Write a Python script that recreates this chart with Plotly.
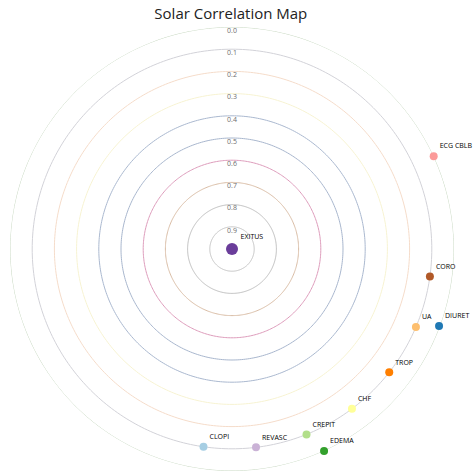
import numpy as np
import plotly.graph_objects as go

# Variables y su correlacion con EXITUS
variables = ['EXITUS', 'ECG CBLB', 'CORO', 'UA', 'DIURET', 'TROP', 'CHF', 'CREPIT', 'EDEMA', 'REVASC', 'CLOPI']
correlacion = [1.0, 0.0, 0.1, 0.1, 0.005, 0.1, 0.1, 0.1, 0.0, 0.1, 0.1]
angulo = [0, 24.7, -7.9, -23.0, -20.4, -38.1, -53.1, -68.1, -65.5, -83.1, -98.2]
colores = ['#6a3d9a', '#fb9a99', '#b15928', '#fdbf6f', '#1f78b4', '#ff7f00',
           '#ffff99', '#b2df8a', '#33a02c', '#cab2d6', '#a6cee3']

# Anillos de correlacion
niveles = [0.0, 0.1, 0.2, 0.3, 0.4, 0.5, 0.6, 0.7, 0.8, 0.9]
colores_anillos = ['#c8d8c2', '#d2d2d8', '#f5dcca', '#f7f3d2', '#aab8cf',
                   '#a8b6cd', '#dd9cbb', '#d9bda6', '#bdbdbd', '#c0c0c0']

fig = go.Figure()

theta_circ = np.linspace(0, 360, 361)
for nivel, color in zip(niveles, colores_anillos):
    fig.add_trace(go.Scatterpolar(
        r=[1 - nivel] * len(theta_circ), theta=theta_circ, mode='lines',
        line=dict(color=color, width=1), hoverinfo='skip', showlegend=False))

fig.add_trace(go.Scatterpolar(
    r=[1 - n - 0.018 for n in niveles], theta=[90] * len(niveles), mode='text',
    text=[f'{n:.1f}' for n in niveles], textfont=dict(size=7, color='#6e6e6e'),
    hoverinfo='skip', showlegend=False))

tamanos = [12 if v == 'EXITUS' else 8 for v in variables]
fig.add_trace(go.Scatterpolar(
    r=[1 - c for c in correlacion], theta=angulo, mode='markers+text',
    text=variables, textposition='top right',
    textfont=dict(size=7, color='#000000'),
    marker=dict(color=colores, size=tamanos, opacity=1, line=dict(width=0)),
    showlegend=False))

fig.update_layout(
    title=dict(text='Solar Correlation Map', x=0.487, xanchor='center', y=0.97, yanchor='middle',
               font=dict(size=15, color='#222222')),
    width=474, height=472,
    margin=dict(l=10, r=20, t=27, b=1),
    paper_bgcolor='white',
    polar=dict(
        bgcolor='white',
        radialaxis=dict(visible=False, range=[0, 1]),
        angularaxis=dict(visible=False),
    ),
)

fig.write_html("out.html", config={'displayModeBar': False},
               post_script="document.body.style.margin='0';")
